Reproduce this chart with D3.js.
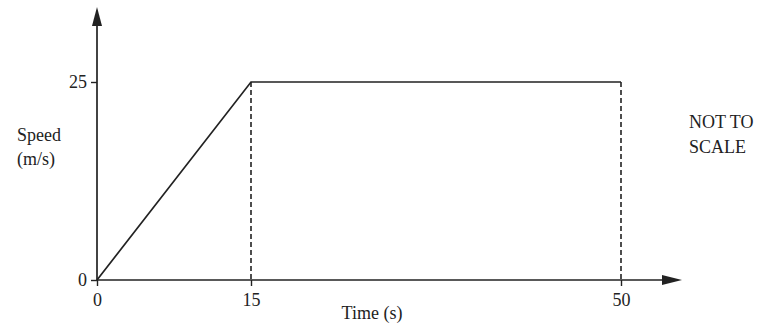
<!DOCTYPE html>
<html>
<head>
<meta charset="utf-8">
<script src="https://cdn.jsdelivr.net/npm/d3@7"></script>
<style>
  body { margin: 0; background: #fff; }
  text { font-family: "Liberation Serif", "DejaVu Serif", serif; fill: #222; }
</style>
</head>
<body>
<svg id="chart" width="768" height="325"></svg>
<script>
// speed-time graph, not to scale
var time = [0, 15, 50];
var speed = [0, 25, 25];
var xTicks = [0, 15, 50];
var yTicks = [0, 25];

var svg = d3.select("#chart");
var ink = "#222";
var fs = "18px";

// x is piecewise since the picture is "not to scale"
var x = d3.scaleLinear().domain([0, 15, 50]).range([97, 251, 621]);
var y = d3.scaleLinear().domain([0, 25]).range([280, 82]);

// axes (ticks + labels only, lines drawn below with arrows)
var xAxis = svg.append("g")
  .attr("transform", "translate(0," + y(0) + ")")
  .call(d3.axisBottom(x).tickValues(xTicks).tickSize(6).tickPadding(7).tickFormat(d3.format("d")));
var yAxis = svg.append("g")
  .attr("transform", "translate(" + x(0) + ",0)")
  .call(d3.axisLeft(y).tickValues(yTicks).tickSize(6).tickPadding(4).tickFormat(d3.format("d")));

[xAxis, yAxis].forEach(function (a) {
  a.attr("font-family", null).attr("font-size", null);
  a.select(".domain").remove();
  a.selectAll(".tick line").attr("stroke", ink).attr("stroke-width", 1.4);
  a.selectAll(".tick text")
    .style("font-family", "'Liberation Serif', serif")
    .style("font-size", fs)
    .attr("fill", ink);
});

// axis lines
svg.append("line")
  .attr("x1", x(0)).attr("y1", y(0))
  .attr("x2", x(0)).attr("y2", 24)
  .attr("stroke", ink).attr("stroke-width", 1.7);
svg.append("line")
  .attr("x1", x(0)).attr("y1", y(0))
  .attr("x2", 664).attr("y2", y(0))
  .attr("stroke", ink).attr("stroke-width", 1.7);

// arrow heads
svg.append("path")
  .attr("d", "M" + x(0) + ",7 L" + (x(0) + 5) + ",26 L" + (x(0) - 5) + ",26 Z")
  .attr("fill", ink);
svg.append("path")
  .attr("d", "M682," + y(0) + " L662," + (y(0) - 5) + " L662," + (y(0) + 5) + " Z")
  .attr("fill", ink);

// dashed drop lines from the plateau
svg.selectAll(".drop")
  .data(time.slice(1))
  .enter().append("line")
  .attr("class", "drop")
  .attr("x1", function (d) { return x(d); })
  .attr("x2", function (d) { return x(d); })
  .attr("y1", function (d, i) { return y(speed[i + 1]); })
  .attr("y2", y(0))
  .attr("stroke", ink)
  .attr("stroke-width", 1.6)
  .attr("stroke-dasharray", "5,3");

// the graph itself
var line = d3.line()
  .x(function (d) { return x(d[0]); })
  .y(function (d) { return y(d[1]); });
svg.append("path")
  .datum(d3.zip(time, speed))
  .attr("d", line)
  .attr("fill", "none")
  .attr("stroke", ink)
  .attr("stroke-width", 1.7);

// labels
svg.append("text").attr("x", 17).attr("y", 141).style("font-size", fs).text("Speed");
svg.append("text").attr("x", 17).attr("y", 165).style("font-size", fs).text("(m/s)");
svg.append("text").attr("x", 372).attr("y", 319).attr("text-anchor", "middle")
  .style("font-size", fs).text("Time (s)");
svg.append("text").attr("x", 689).attr("y", 128).style("font-size", fs).text("NOT TO");
svg.append("text").attr("x", 689).attr("y", 153).style("font-size", fs).text("SCALE");
</script>
</body>
</html>
